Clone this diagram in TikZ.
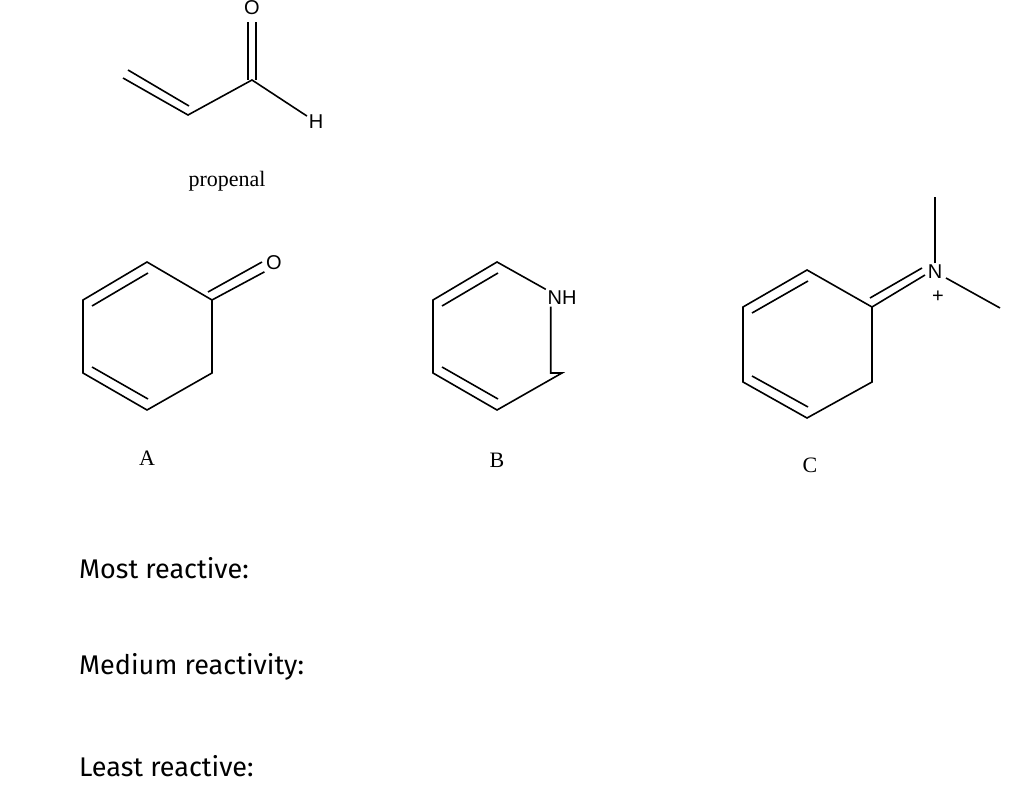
\documentclass[tikz,border=0pt]{standalone}
\usepackage{fontspec}
\setmainfont{Liberation Serif}
\newfontfamily\arialf{Liberation Sans}
\newfontfamily\comicf{Fira Sans}
\begin{document}
\begin{tikzpicture}[x=1pt,y=-1pt,line width=1.6pt,
  atom/.style={font=\arialf\fontsize{20}{20}\selectfont,inner sep=1pt},
  lab/.style={font=\fontsize{22}{22}\selectfont},
  q/.style={font=\comicf\fontsize{27}{27}\selectfont,anchor=west}]
\useasboundingbox (0,0) rectangle (1024,810);
% propenal
\coordinate (p1) at (123,78); \coordinate (p2) at (188,115); \coordinate (p3) at (252,80);
\node[atom] (pO) at (252,8) {O};
\node[atom] (pH) at (316,122) {H};
\draw (p1)--(p2)--(p3)--(pH);
\draw (128,70)--(189,106);
\draw (248,80)--(248,22) (256,80)--(256,22);
\node[lab] (lp) at (227,181) {propenal};
% ring A
\foreach \n/\x/\y in {a1/147/262,a2/212/300,a3/212/373,a4/147/410,a5/83/373,a6/83/300}
  \coordinate (\n) at (\x,\y);
\draw (a1)--(a2)--(a3)--(a4)--(a5)--(a6)--cycle;
\draw (92,306)--(148,273) (92,367)--(148,399);
\node[atom] (aO) at (274,263) {O};
\draw (212,300)--(aO.south west) (208,292)--(262,262);
\node[lab] (lA) at (147,458) {A};
% ring B
\foreach \n/\x/\y in {b1/497/262,b3/562/373,b4/497/410,b5/433/373,b6/433/300}
  \coordinate (\n) at (\x,\y);
\node[atom] (bN) at (562,298) {NH};
\draw (bN.south west) ++(5,0) |- (b3) -- (b4)--(b5)--(b6)--(b1)--(bN.north west);
\draw (442,306)--(498,273) (442,367)--(498,399);
\node[lab] (lB) at (497,460) {B};
% ring C
\foreach \n/\x/\y in {c1/807/270,c2/872/307,c3/872/382,c4/807/418,c5/743/382,c6/743/307}
  \coordinate (\n) at (\x,\y);
\draw (c1)--(c2)--(c3)--(c4)--(c5)--(c6)--cycle;
\draw (752,313)--(808,281) (752,376)--(808,407);
\node[atom] (cN) at (935,272) {N};
\node[atom] (cP) at (938,297) {+};
\draw (c2)--(925,275) (870,298)--(922,268);
\draw (cN.north)--(935,197);
\draw (946,278)--(1000,308);
\node[lab] (lC) at (810,465) {C};
% questions
\node[q] (q1) at (75,568) {Most reactive:};
\node[q] (q2) at (75,667) {Medium reactivity:};
\node[q] (q3) at (75,766) {Least reactive:};
\end{tikzpicture}
\end{document}
